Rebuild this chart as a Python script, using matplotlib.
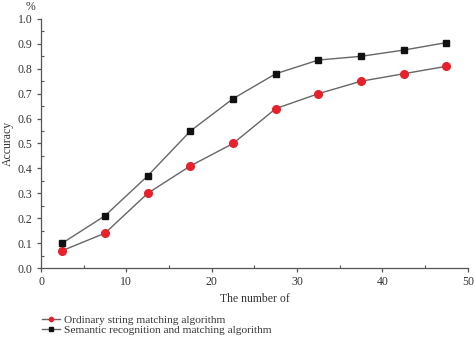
import matplotlib.pyplot as plt
from matplotlib.ticker import MultipleLocator

plt.rcParams['font.family'] = ['Liberation Serif', 'DejaVu Serif']

x = [2.5, 7.5, 12.5, 17.5, 22.5, 27.5, 32.5, 37.5, 42.5, 47.5]
ordinary = [0.07, 0.14, 0.30, 0.41, 0.50, 0.64, 0.70, 0.75, 0.78, 0.81]
semantic = [0.10, 0.21, 0.37, 0.55, 0.68, 0.78, 0.835, 0.85, 0.875, 0.905]

fig = plt.figure(figsize=(4.74, 3.38), dpi=100)
ax = fig.add_axes([0.0865, 0.207, 0.9005, 0.737])

axcol = '#555555'
ax.plot(x, ordinary, color='#666666', lw=1, marker='o', ms=5.5,
        mfc='#e8202a', mec='#e8202a', label='Ordinary string matching algorithm')
ax.plot(x, semantic, color='#666666', lw=1, marker='s', ms=4.6,
        mfc='#111111', mec='#111111', label='Semantic recognition and matching algorithm')

ax.set_xlim(0, 50)
ax.set_ylim(0, 1.0)
ax.xaxis.set_major_locator(MultipleLocator(10))
ax.xaxis.set_minor_locator(MultipleLocator(5))
ax.yaxis.set_major_locator(MultipleLocator(0.1))
ax.yaxis.set_minor_locator(MultipleLocator(0.05))
ax.yaxis.set_major_formatter(plt.FuncFormatter(lambda v, p: f'{v:.1f}'))

for s in ['top', 'right']:
    ax.spines[s].set_visible(False)
for s in ['left', 'bottom']:
    ax.spines[s].set_color(axcol)
    ax.spines[s].set_linewidth(0.9)
ax.tick_params(which='major', direction='out', length=3, width=0.9,
               color=axcol, labelsize=8.5, labelcolor='#333333', pad=3)
ax.tick_params(which='minor', direction='in', length=2.5, width=0.8, color=axcol)

ax.set_xlabel('The number of', fontsize=8.5, color='#333333', labelpad=3)
ax.set_ylabel('Accuracy', fontsize=8.5, color='#333333', labelpad=3)
fig.text(0.065, 0.978, '%', fontsize=8.5, color='#333333', ha='center', va='center')

leg = fig.legend(loc='lower left', bbox_to_anchor=(0.088, 0.008), frameon=False,
                 fontsize=8.2, handlelength=1.6, handletextpad=0.4,
                 labelspacing=0.05, markerscale=0.55, borderpad=0, borderaxespad=0)
for t in leg.get_texts():
    t.set_color('#333333')

fig.savefig('out.png', dpi=100)
